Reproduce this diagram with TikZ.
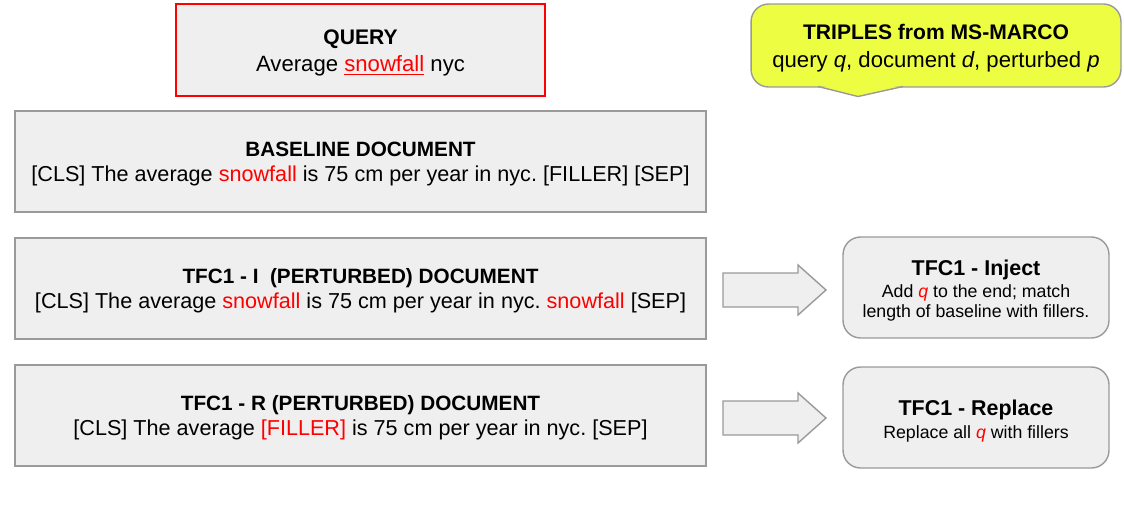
\documentclass[tikz,border=0pt]{standalone}
\usepackage{fontspec}
\setmainfont{Liberation Sans}
\usepackage{tikz}
\usetikzlibrary{positioning}
\usetikzlibrary{calc}
\frenchspacing

\definecolor{boxgray}{HTML}{EFEFEF}
\definecolor{linegray}{HTML}{9A9A9A}
\definecolor{calloutyellow}{HTML}{EDFD42}

\tikzset{
  docbox/.style={draw=linegray, fill=boxgray, line width=0.8pt, minimum width=13.82cm, minimum height=2.02cm},
  querybox/.style={draw=red, fill=boxgray, line width=0.8pt, minimum width=7.38cm, minimum height=1.84cm},
  testbox/.style={draw=linegray, fill=boxgray, line width=0.8pt, rounded corners=10pt, minimum width=5.32cm, minimum height=2.02cm},
  tripbox/.style={draw=linegray, fill=calloutyellow, line width=0.8pt, rounded corners=10pt, minimum width=7.4cm, minimum height=1.66cm},
  doctext/.style={align=center, inner sep=0pt, font=\fontsize{12.3}{14.4}\selectfont},
  bigtext/.style={align=center, inner sep=0pt, font=\fontsize{12.6}{15.6}\selectfont},
  testtext/.style={align=center, inner sep=0pt, font=\fontsize{10.1}{12}\selectfont},
  bigarrow/.style={draw=linegray, fill=boxgray, line width=0.8pt}
}

\begin{document}
\begin{tikzpicture}[x=0.02cm, y=-0.02cm]
\useasboundingbox (0,0) rectangle (1124,521);

% query and the triples callout
\node (query) [querybox] at (360.5,50) {};
\node (querytxt) [bigtext] at ($(query.center)+(0,3)$) {{\fontsize{12}{15.6}\selectfont\textbf{QUERY}}\\Average {\color{red}\underline{snowfall}} nyc};

\node (triples) [tripbox] at (936,45.5) {};
\filldraw[fill=calloutyellow, draw=linegray, line width=0.8pt] (818,86.5) -- (858,96.5) -- (903,86.5);
\fill[calloutyellow] (820,85.3) -- (858,95.2) -- (901,85.3) -- cycle;
\node (triplestxt) [bigtext] at ($(triples.center)+(0,2.5)$) {{\fontsize{12}{16}\selectfont\textbf{TRIPLES from MS-MARCO}}\\query \textit{q}, document \textit{d}, perturbed \textit{p}};

% documents
\node (base) [docbox] at (360.5,161.5) {};
\node (basetxt) [doctext] at ($(base.center)+(0,2.5)$) {{\fontsize{11.8}{14.4}\selectfont\textbf{BASELINE DOCUMENT}}\\{}[CLS] The average {\color{red}snowfall} is 75 cm per year in nyc. [FILLER] [SEP]};
\node (inj) [docbox] at (360.5,288.5) {};
\node (injtxt) [doctext] at ($(inj.center)+(0,2.5)$) {{\fontsize{11.8}{14.4}\selectfont\textbf{TFC1 - I\ \ (PERTURBED) DOCUMENT}}\\{}[CLS] The average {\color{red}snowfall} is 75 cm per year in nyc. {\color{red}snowfall} [SEP]};
\node (rep) [docbox] at (360.5,415.5) {};
\node (reptxt) [doctext] at ($(rep.center)+(0,2.5)$) {{\fontsize{11.8}{14.4}\selectfont\textbf{TFC1 - R (PERTURBED) DOCUMENT}}\\{}[CLS] The average {\color{red}[FILLER]} is 75 cm per year in nyc. [SEP]};

% tests
\node (injtest) [testbox] at (976,287.5) {};
\node (injtesttxt) [testtext] at ($(injtest.center)+(0,3)$) {{\fontsize{12.2}{13.5}\selectfont\textbf{TFC1 - Inject}}\\[0.7pt]Add {\color{red}\textit{q}} to the end; match\\[-0.5pt]length of baseline with fillers.};
\node (reptest) [testbox] at (976,417.5) {};
\node (reptesttxt) [testtext] at ($(reptest.center)+(0,3.5)$) {{\fontsize{12.2}{13.5}\selectfont\textbf{TFC1 - Replace}}\\[0.6pt]Replace all {\color{red}\textit{q}} with fillers};

% block arrows between the documents and the tests
\foreach \yc in {290,418} {
  \draw[bigarrow] (723,\yc-17) -- (798,\yc-17) -- (798,\yc-25) -- (826,\yc) -- (798,\yc+25) -- (798,\yc+17) -- (723,\yc+17) -- cycle;
}
\end{tikzpicture}
\end{document}
